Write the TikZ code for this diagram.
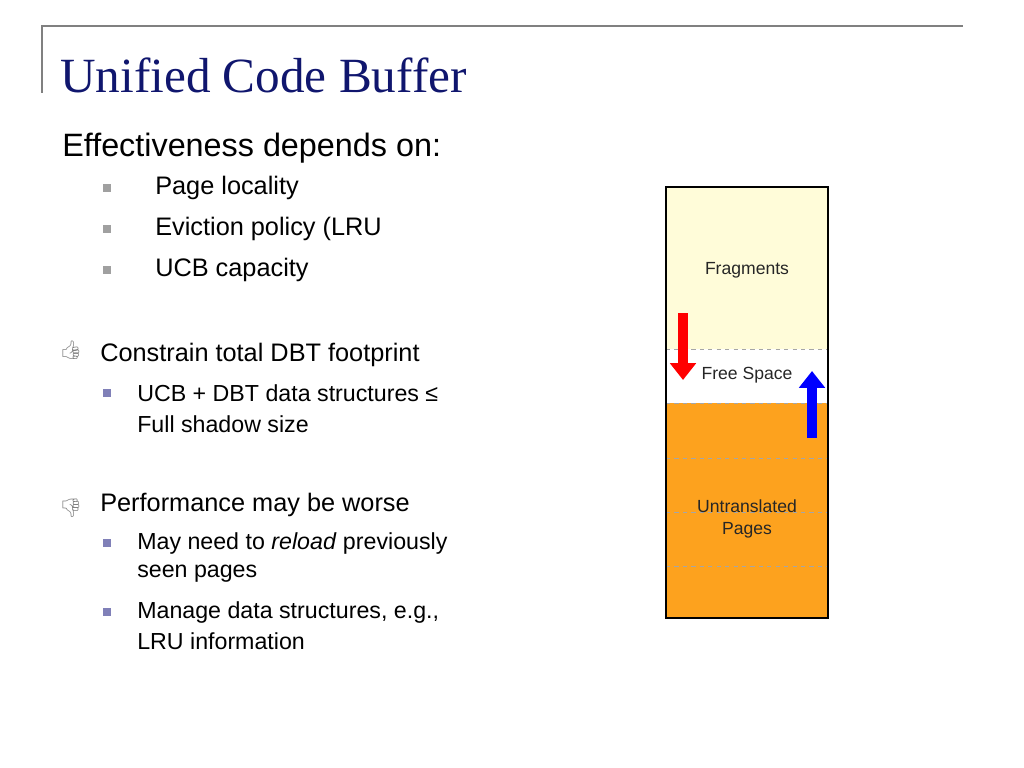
\documentclass[tikz,border=0pt]{standalone}
\usepackage{fontspec}
\setmainfont{Liberation Sans}
\newfontfamily\titlefont{Liberation Serif}
\newfontfamily\emojifont{Noto Emoji}
\usetikzlibrary{arrows.meta,positioning}
\definecolor{titleblue}{RGB}{16,22,110}
\definecolor{fragyellow}{RGB}{255,252,217}
\definecolor{pageorange}{RGB}{253,162,30}
\definecolor{bulletgrey}{RGB}{160,160,160}
\definecolor{bulletblue}{RGB}{128,128,184}
\begin{document}
\begin{tikzpicture}[x=0.025cm, y=-0.025cm,
		lvlone/.style={anchor=west, font=\fontsize{23}{27}\selectfont, inner sep=0pt},
		lvltwo/.style={anchor=west, font=\fontsize{18}{22}\selectfont, inner sep=0pt},
		lvlthree/.style={anchor=west, font=\fontsize{16.5}{20}\selectfont, inner sep=0pt},
		greysq/.style={fill=bulletgrey, minimum size=5pt, inner sep=0pt},
		bluesq/.style={fill=bulletblue, minimum size=5pt, inner sep=0pt},
		thumb/.style={text=gray, font=\emojifont\fontsize{13}{13}\selectfont, inner sep=0pt},
		boxlabel/.style={font=\fontsize{12.5}{16}\selectfont, text=black!85},
		divider/.style={dashed, gray!70, line width=0.6pt},
		bigarrow/.style={-{Triangle[width=18pt,length=12pt]}, line width=7pt}]
		\useasboundingbox (0,0) rectangle (1024,768);
		% frame and title
		\draw [gray, line width=1.2pt] (42,93) -- (42,26) -- (963,26);
		\node [anchor=west, inner sep=0pt, text=titleblue, font=\titlefont\fontsize{35}{40}\selectfont] (title) at (60,75) {Unified Code Buffer};
		% first block
		\node [lvlone] (eff) at (62,148) {Effectiveness depends on:};
		\foreach \y/\t in {188/Page locality, 229/Eviction policy (LRU/FIFO), 270/UCB capacity} {
			\node [greysq] at (107,\y) {};
			\node [lvltwo] at (155,\y) {\t};
		}
		% thumbs up
		\node [thumb] (up) at (71,350) {👍};
		\node [lvltwo] (con) at (100,355) {Constrain total DBT footprint};
		\node [bluesq] at (107,393) {};
		\node [lvlthree] (ucb) at (137,393) {UCB + DBT data structures ≤};
		\node [lvlthree] (full) at (137,424) {Full shadow size};
		% thumbs down
		\node [thumb] (down) at (71,508) {👎};
		\node [lvltwo] (perf) at (100,505) {Performance may be worse};
		\node [bluesq] at (107,543) {};
		\node [lvlthree] (may) at (137,543) {May need to \textit{reload} previously};
		\node [lvlthree] (seen) at (137,574) {seen pages};
		\node [bluesq] at (107,612) {};
		\node [lvlthree] (man) at (137,612) {Manage data structures, e.g.,};
		\node [lvlthree] (lru) at (137,641) {LRU information};
		% buffer
		\fill [fragyellow] (666,187) rectangle (828,349);
		\fill [pageorange] (666,403) rectangle (828,618);
		\foreach \y in {349,403,458,512,566}
			\draw [divider] (666,\y) -- (828,\y);
		\draw [line width=2pt] (666,187) rectangle (828,618);
		\node [boxlabel] (frag) at (747,270) {Fragments};
		\node [boxlabel] (free) at (747,375) {Free Space};
		\node [boxlabel, align=center] (untr) at (747,519) {Untranslated\\Pages};
		\draw [bigarrow, red] (683,313) -- (683,380);
		\draw [bigarrow, blue] (812,438) -- (812,371);
	\end{tikzpicture}
\end{document}
